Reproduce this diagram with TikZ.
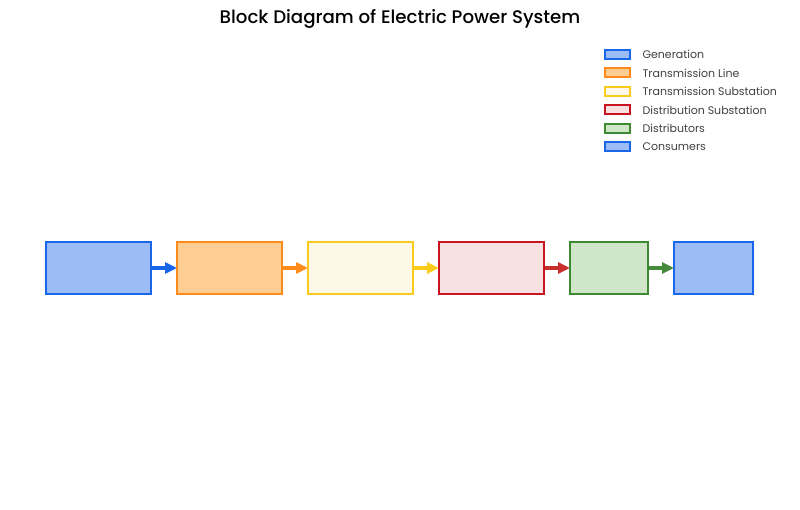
\documentclass[tikz,border=0pt]{standalone}
\usepackage{fontspec}
\setmainfont{Poppins}
\newfontfamily\titlefont{Poppins Medium}
\usetikzlibrary{arrows.meta}
\definecolor{bB}{HTML}{1A66E8}\definecolor{fB}{HTML}{9BBCF5}
\definecolor{bO}{HTML}{FF8C1A}\definecolor{fO}{HTML}{FDCD92}
\definecolor{bY}{HTML}{FBCB1B}\definecolor{fY}{HTML}{FEF8E8}
\definecolor{bR}{HTML}{C8141E}\definecolor{fR}{HTML}{F8E0E0}
\definecolor{bG}{HTML}{3E8A33}\definecolor{fG}{HTML}{CFE6C9}
\definecolor{aR}{HTML}{C8302E}\definecolor{aG}{HTML}{448A3A}
\begin{document}
\begin{tikzpicture}[x=1pt,y=-1pt,
  blk/.style={draw=#1, line width=2pt, minimum height=52pt, inner sep=0pt},
  sw/.style={draw=#1, line width=2pt, minimum width=25pt, minimum height=9pt, inner sep=0pt},
  lg/.style={anchor=west, font=\fontsize{11}{12}\selectfont, text=black!75},
  con/.style={line width=3.2pt, draw=#1, -{Triangle[length=12pt,width=11pt,fill=#1]}, shorten >=-1pt}]
\useasboundingbox (0,0) rectangle (800,510);
\node[font=\titlefont\fontsize{18.2}{21}\selectfont] (title) at (400,19) {Block Diagram of Electric Power System};
% blocks
\node[blk=bB, fill=fB, minimum width=105pt] (b1) at (98.5,268) {};
\node[blk=bO, fill=fO, minimum width=105pt] (b2) at (229.5,268) {};
\node[blk=bY, fill=fY, minimum width=105pt] (b3) at (360.5,268) {};
\node[blk=bR, fill=fR, minimum width=105pt] (b4) at (491.5,268) {};
\node[blk=bG, fill=fG, minimum width=78pt] (b5) at (609,268) {};
\node[blk=bB, fill=fB, minimum width=79pt] (b6) at (713.5,268) {};
\draw[con=bB] (b1.east) -- (b2.west);
\draw[con=bO] (b2.east) -- (b3.west);
\draw[con=bY] (b3.east) -- (b4.west);
\draw[con=aR] (b4.east) -- (b5.west);
\draw[con=aG] (b5.east) -- (b6.west);
% legend
\node[sw=bB, fill=fB] (s1) at (617,54.5) {};
\node[sw=bO, fill=fO] (s2) at (617,73) {};
\node[sw=bY, fill=fY] (s3) at (617,91.5) {};
\node[sw=bR, fill=fR] (s4) at (617,110) {};
\node[sw=bG, fill=fG] (s5) at (617,128.5) {};
\node[sw=bB, fill=fB] (s6) at (617,147) {};
\node[lg] (l1) at (639,54.5) {Generation};
\node[lg] (l2) at (639,73) {Transmission Line};
\node[lg] (l3) at (639,91.5) {Transmission Substation};
\node[lg] (l4) at (639,110) {Distribution Substation};
\node[lg] (l5) at (639,128.5) {Distributors};
\node[lg] (l6) at (639,147) {Consumers};
\end{tikzpicture}
\end{document}
